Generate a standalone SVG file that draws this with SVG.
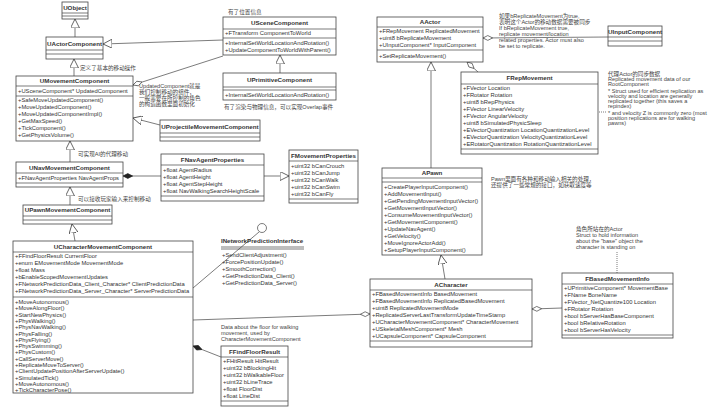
<svg xmlns="http://www.w3.org/2000/svg" width="720" height="409" viewBox="0 0 720 409">
<style>
text{font-family:"Liberation Sans",Arial,"Noto Sans CJK SC",sans-serif;font-size:5.8px;fill:#333}
.t{font-weight:bold;text-anchor:middle;font-size:6.2px}
.n{font-size:5.6px;fill:#444}
rect{fill:#fff;stroke:#444;stroke-width:0.8}
.s{stroke:#444;stroke-width:0.7}
#conn path{fill:none;stroke:#444;stroke-width:0.7}
.d{stroke-dasharray:1 1}
</style>
<defs>
<marker id="tri" viewBox="0 0 10 10" refX="10" refY="5" markerWidth="9" markerHeight="9" markerUnits="userSpaceOnUse" orient="auto"><path d="M0,0 L10,5 L0,10 z" fill="#fff" stroke="#444" stroke-width="0.9"/></marker>
<marker id="dia" viewBox="0 0 12 10" refX="12" refY="5" markerWidth="10" markerHeight="8" markerUnits="userSpaceOnUse" orient="auto"><path d="M0,5 L6,2 L12,5 L6,8 z" fill="#fff" stroke="#444" stroke-width="0.9"/></marker>
<marker id="fdia" viewBox="0 0 12 10" refX="12" refY="5" markerWidth="10" markerHeight="8" markerUnits="userSpaceOnUse" orient="auto"><path d="M0,5 L6,2 L12,5 L6,8 z" fill="#222" stroke="#222" stroke-width="0.9"/></marker>
</defs>
<rect x="0" y="0" width="720" height="409" style="fill:#fff;stroke:none"/>

<g id="conn">
<path d="M75,37 L75,19" marker-end="url(#tri)"/>
<path d="M74,76 L74,59" marker-end="url(#tri)"/>
<path d="M223,40 L103,44" marker-end="url(#tri)"/>
<path d="M223,56 L133,85" marker-end="url(#dia)"/>
<path d="M160,125 L133,118" marker-end="url(#tri)"/>
<path d="M70,162 L70,141" marker-end="url(#tri)"/>
<path d="M70,205 L70,187" marker-end="url(#tri)"/>
<path d="M75,241 L72,224" marker-end="url(#tri)"/>
<path d="M161,176 L123,176" marker-end="url(#fdia)"/>
<path d="M264,176 L289,176" marker-end="url(#tri)"/>
<path d="M280,73 L280,55" marker-end="url(#tri)"/>
<path d="M193,288 L259,232"/>
<circle cx="262" cy="228" r="4.5" fill="#fff" stroke="#444" stroke-width="0.7"/>
<path d="M221,357 L193,346" marker-end="url(#fdia)"/>
<path d="M193,320 L370,314" marker-end="url(#dia)"/>
<path d="M431,168 L431,62" marker-end="url(#tri)"/>
<path d="M445,279 L441,255" marker-end="url(#tri)"/>
<path d="M478,72 L467,62" marker-end="url(#dia)"/>
<path d="M608,37 L483,38" marker-end="url(#dia)"/>
<path d="M562,308 L532,309" marker-end="url(#dia)"/>
<path class="d" d="M599,112 L606,112"/>
<path class="d" d="M617,252 L617,273"/>
</g>

<g id="UObject"><rect x="62" y="2" width="26" height="17"/><text class="t" x="75" y="10">UObject</text><line class="s" x1="62" y1="13" x2="88" y2="13"/><line class="s" x1="62" y1="16" x2="88" y2="16"/></g>

<g id="UActorComponent"><rect x="46" y="37" width="57" height="22"/><text class="t" x="74.5" y="46">UActorComponent</text><line class="s" x1="46" y1="50" x2="103" y2="50"/><line class="s" x1="46" y1="54" x2="103" y2="54"/></g>
<text class="n" x="80" y="70">定义了基本的移动操作</text>

<g id="UMovementComponent"><rect x="16" y="76" width="117" height="65"/><text class="t" x="74.5" y="83">UMovementComponent</text><line class="s" x1="16" y1="86" x2="133" y2="86"/>
<text x="18" y="93">+USceneComponent* UpdatedComponent</text><line class="s" x1="16" y1="96" x2="133" y2="96"/>
<text x="18" y="102">+SafeMoveUpdatedComponent()</text><text x="18" y="109">+MoveUpdatedComponent()</text><text x="18" y="116">+MoveUpdatedComponentImpl()</text><text x="18" y="123">+GetMaxSpeed()</text><text x="18" y="130">+TickComponent()</text><text x="18" y="137">+GetPhysicsVolume()</text></g>

<g id="note-updated"><text class="n" x="139" y="88">UpdatedComponent就是</text><text class="n" x="139" y="94">我们控制移动的组件，</text><text class="n" x="139" y="100">一般需要在所控制的角色</text><text class="n" x="139" y="106">的构造函数里面初始化</text></g>

<g id="USceneComponent"><text class="n" x="228" y="14">有了位置信息</text><rect x="223" y="17" width="113" height="38"/><text class="t" x="279.5" y="25">USceneComponent</text><line class="s" x1="223" y1="29" x2="336" y2="29"/>
<text x="225" y="35">+FTransform ComponentToWorld</text><line class="s" x1="223" y1="38" x2="336" y2="38"/>
<text x="225" y="45">+InternalSetWorldLocationAndRotation()</text><text x="225" y="52">+UpdateComponentToWorldWithParent()</text></g>

<g id="UPrimitiveComponent"><rect x="223" y="73" width="113" height="27"/><text class="t" x="279.5" y="82">UPrimitiveComponent</text><line class="s" x1="223" y1="87" x2="336" y2="87"/><line class="s" x1="223" y1="90" x2="336" y2="90"/>
<text x="225" y="97">+InternalSetWorldLocationAndRotation()</text><text class="n" x="224" y="109">有了渲染与物理信息，可以实现Overlap事件</text></g>

<g id="UProjectileMovementComponent"><rect x="160" y="120" width="100" height="21"/><text class="t" x="210" y="129">UProjectileMovementComponent</text><line class="s" x1="160" y1="133" x2="260" y2="133"/><line class="s" x1="160" y1="137" x2="260" y2="137"/></g>

<text class="n" x="78" y="156">可实现AI的代理移动</text>
<g id="UNavMovementComponent"><rect x="16" y="162" width="107" height="25"/><text class="t" x="69.5" y="170">UNavMovementComponent</text><line class="s" x1="16" y1="173" x2="123" y2="173"/><text x="18" y="180">+FNavAgentProperties NavAgentProps</text><line class="s" x1="16" y1="183" x2="123" y2="183"/></g>
<text class="n" x="78" y="201">可以接收玩家输入来控制移动</text>
<g id="UPawnMovementComponent"><rect x="23" y="205" width="89" height="19"/><text class="t" x="67.5" y="212">UPawnMovementComponent</text><line class="s" x1="23" y1="216" x2="112" y2="216"/><line class="s" x1="23" y1="220" x2="112" y2="220"/></g>

<g id="FNavAgentProperties"><rect x="161" y="154" width="103" height="47"/><text class="t" x="212.5" y="162">FNavAgentProperties</text><line class="s" x1="161" y1="165" x2="264" y2="165"/>
<text x="163" y="172">+float AgentRadius</text><text x="163" y="179">+float AgentHeight</text><text x="163" y="186">+float AgentStepHeight</text><text x="163" y="193">+float NavWalkingSearchHeightScale</text><line class="s" x1="161" y1="196" x2="264" y2="196"/></g>

<g id="FMovementProperties"><rect x="289" y="150" width="69" height="53"/><text class="t" x="323.5" y="158">FMovementProperties</text><line class="s" x1="289" y1="161" x2="358" y2="161"/>
<text x="291" y="168">+uint32 bCanCrouch</text><text x="291" y="175">+uint32 bCanJump</text><text x="291" y="182">+uint32 bCanWalk</text><text x="291" y="189">+uint32 bCanSwim</text><text x="291" y="196">+uint32 bCanFly</text><line class="s" x1="289" y1="199" x2="358" y2="199"/></g>

<g id="UCharacterMovementComponent"><rect x="13" y="241" width="180" height="152"/><text class="t" x="103" y="249">UCharacterMovementComponent</text><line class="s" x1="13" y1="252" x2="193" y2="252"/>
<text x="15" y="258">+FFindFloorResult CurrentFloor</text><text x="15" y="265">+enum EMovementMode MovementMode</text><text x="15" y="272">+float Mass</text><text x="15" y="279">+bEnableScopedMovementUpdates</text><text x="15" y="286">+FNetworkPredictionData_Client_Character* ClientPredictionData</text><text x="15" y="293">+FNetworkPredictionData_Server_Character* ServerPredictionData</text>
<line class="s" x1="13" y1="297" x2="193" y2="297"/>
<text x="15" y="304">+MoveAutonomous()</text><text x="15" y="310.3">+MoveAlongFloor()</text><text x="15" y="316.6">+StartNewPhysics()</text><text x="15" y="322.9">+PhysWalking()</text><text x="15" y="329.2">+PhysNavWalking()</text><text x="15" y="335.5">+PhysFalling()</text><text x="15" y="341.8">+PhysFlying()</text><text x="15" y="348.1">+PhysSwimming()</text><text x="15" y="354.4">+PhysCustom()</text><text x="15" y="360.7">+CallServerMove()</text><text x="15" y="367">+ReplicateMoveToServer()</text><text x="15" y="373.3">+ClientUpdatePositionAfterServerUpdate()</text><text x="15" y="379.6">+SimulatedTick()</text><text x="15" y="385.9">+MoveAutonomous()</text><text x="15" y="392">+TickCharacterPose()</text></g>

<g id="INetworkPredictionInterface"><text class="t" x="262" y="243">INetworkPredictionInterface</text><line class="s" x1="221" y1="247" x2="304" y2="247"/><line class="s" x1="221" y1="249" x2="304" y2="249"/>
<text x="222" y="257">+SendClientAdjustment()</text><text x="222" y="264">+ForcePositionUpdate()</text><text x="222" y="271">+SmoothCorrection()</text><text x="222" y="278">+GetPredictionData_Client()</text><text x="222" y="285">+GetPredictionData_Server()</text></g>

<g id="FFindFloorResult"><text class="n" x="221" y="329">Data about the floor for walking</text><text class="n" x="221" y="335">movement, used by</text><text class="n" x="221" y="341">CharacterMovementComponent</text>
<rect x="221" y="346" width="67" height="60"/><text class="t" x="254.5" y="354">FFindFloorResult</text><line class="s" x1="221" y1="357" x2="288" y2="357"/>
<text x="223" y="363">+FHitResult HitResult</text><text x="223" y="370">+uint32 bBlockingHit</text><text x="223" y="377">+uint32 bWalkableFloor</text><text x="223" y="384">+uint32 bLineTrace</text><text x="223" y="391">+float FloorDist</text><text x="223" y="398">+float LineDist</text><line class="s" x1="221" y1="401" x2="288" y2="401"/></g>

<g id="AActor"><rect x="377" y="17" width="106" height="45"/><text class="t" x="430" y="24">AActor</text><line class="s" x1="377" y1="27" x2="483" y2="27"/>
<text x="379" y="33">+FRepMovement ReplicatedMovement</text><text x="379" y="40">+uint8 bReplicateMovement</text><text x="379" y="47">+UInputComponent* InputComponent</text><line class="s" x1="377" y1="50" x2="483" y2="50"/><text x="379" y="58">+SetReplicateMovement()</text></g>

<g id="note-actor"><text class="n" x="499" y="18">如果bReplicateMovement为true,</text><text class="n" x="499" y="24">表明这个Actor的移动数据需要被同步</text><text class="n" x="499" y="30">If bReplicateMovement true,</text><text class="n" x="499" y="36">replicate movement/location</text><text class="n" x="499" y="42">related properties.  Actor must also</text><text class="n" x="499" y="48">be set to replicate.</text></g>

<g id="UInputComponent"><rect x="608" y="26" width="54" height="20"/><text class="t" x="635" y="34">UInputComponent</text><line class="s" x1="608" y1="37" x2="662" y2="37"/><line class="s" x1="608" y1="41" x2="662" y2="41"/></g>

<g id="FRepMovement"><rect x="461" y="72" width="137" height="82"/><text class="t" x="529.5" y="80">FRepMovement</text><line class="s" x1="461" y1="84" x2="598" y2="84"/>
<text x="463" y="90">+FVector Location</text><text x="463" y="97">+FRotator Rotation</text><text x="463" y="104">+uint8 bRepPhysics</text><text x="463" y="111">+FVector LinearVelocity</text><text x="463" y="118">+FVector AngularVelocity</text><text x="463" y="125">+uint8 bSimulatedPhysicSleep</text><text x="463" y="132">+EVectorQuantization LocationQuantizationLevel</text><text x="463" y="139">+EVectorQuantization VelocityQuantizationLevel</text><text x="463" y="146">+ERotatorQuantization RotationQuantizationLevel</text><line class="s" x1="461" y1="149" x2="598" y2="149"/></g>

<g id="note-rep"><text class="n" x="608" y="76">代理Actor的同步数据</text><text class="n" x="608" y="81">Replicated movement data of our</text><text class="n" x="608" y="86">RootComponent</text><text class="n" x="608" y="93">   * Struct used for efficient replication as</text><text class="n" x="608" y="98">velocity and location are generally</text><text class="n" x="608" y="103">replicated together (this saves a</text><text class="n" x="608" y="108">repindex)</text><text class="n" x="608" y="115">   * and velocity Z is commonly zero (most</text><text class="n" x="608" y="120">position replications are for walking</text><text class="n" x="608" y="125">pawns)</text></g>

<g id="APawn"><rect x="382" y="168" width="100" height="87"/><text class="t" x="432" y="175">APawn</text><line class="s" x1="382" y1="178" x2="482" y2="178"/><line class="s" x1="382" y1="182" x2="482" y2="182"/>
<text x="384" y="189">+CreatePlayerInputComponent()</text><text x="384" y="196">+AddMovementInput()</text><text x="384" y="203">+GetPendingMovementInputVector()</text><text x="384" y="210">+GetMovementInputVector()</text><text x="384" y="217">+ConsumeMovementInputVector()</text><text x="384" y="224">+GetMovementComponent()</text><text x="384" y="231">+UpdateNavAgent()</text><text x="384" y="238">+GetVelocity()</text><text x="384" y="245">+MoveIgnoreActorAdd()</text><text x="384" y="252">+SetupPlayerInputComponent()</text></g>
<text class="n" x="491" y="181">Pawn里面有各种和移动输入相关的处理，</text><text class="n" x="491" y="187">还提供了一些常规的接口，如获取速度等</text>

<g id="ACharacter"><rect x="370" y="279" width="162" height="68"/><text class="t" x="451" y="287">ACharacter</text><line class="s" x1="370" y1="290" x2="532" y2="290"/>
<text x="372" y="296">+FBasedMovementInfo BasedMovement</text><text x="372" y="303">+FBasedMovementInfo ReplicatedBasedMovement</text><text x="372" y="310">+uint8 ReplicatedMovementMode</text><text x="372" y="317">+ReplicatedServerLastTransformUpdateTimeStamp</text><text x="372" y="324">+UCharacterMovementComponent* CharacterMovement</text><text x="372" y="331">+USkeletalMeshComponent* Mesh</text><text x="372" y="338">+UCapsuleComponent* CapsuleComponent</text><line class="s" x1="370" y1="341" x2="532" y2="341"/></g>

<g id="FBasedMovementInfo"><text class="n" x="576" y="231">角色所站在的Actor</text><text class="n" x="576" y="237">Struct to hold information</text><text class="n" x="576" y="243">about the "base" object the</text><text class="n" x="576" y="249">character is standing on</text>
<rect x="562" y="273" width="111" height="65"/><text class="t" x="617.5" y="281">FBasedMovementInfo</text><line class="s" x1="562" y1="284" x2="673" y2="284"/>
<text x="564" y="290">+UPrimitiveComponent* MovementBase</text><text x="564" y="297">+FName BoneName</text><text x="564" y="304">+FVector_NetQuantize100 Location</text><text x="564" y="311">+FRotator Rotation</text><text x="564" y="318">+bool bServerHasBaseComponent</text><text x="564" y="325">+bool bRelativeRotation</text><text x="564" y="332">+bool bServerHasVelocity</text><line class="s" x1="562" y1="335" x2="673" y2="335"/></g>
</svg>
